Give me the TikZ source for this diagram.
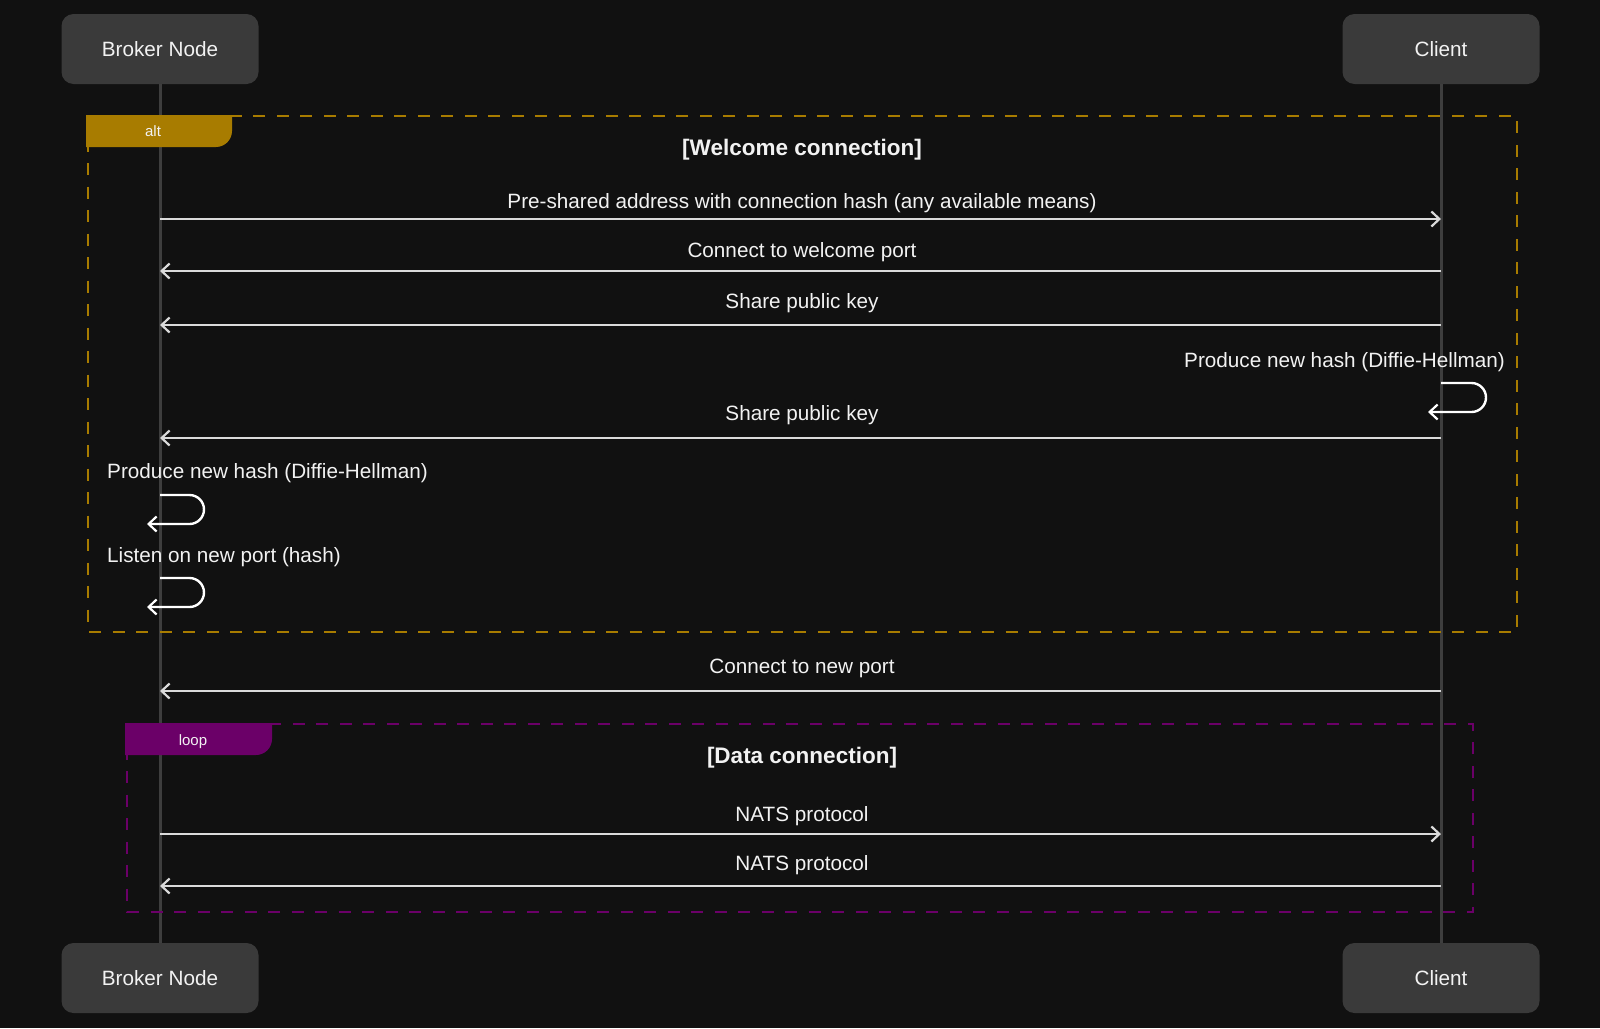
\documentclass[tikz,border=0pt]{standalone}
\usepackage{fontspec}
\setmainfont{Liberation Sans}
\usetikzlibrary{arrows.meta}
\definecolor{bg}{HTML}{111111}
\definecolor{actorfill}{HTML}{3A3A3A}
\definecolor{lifec}{HTML}{3E3E3E}
\definecolor{msgc}{HTML}{DADADA}
\definecolor{txtc}{HTML}{F2F2F2}
\definecolor{altc}{HTML}{A87C00}
\definecolor{loopc}{HTML}{6B0068}
\tikzset{
  actor/.style={fill=actorfill, rounded corners=12pt, minimum width=197pt, minimum height=70pt, inner sep=0pt, text=txtc, font=\fontsize{20.7}{24}\selectfont},
  lifeline/.style={draw=lifec, line width=3pt},
  msg/.style={draw=msgc, line width=2.4pt, -{Straight Barb[length=8pt,width=15pt,line width=2.2pt]}},
  selfmsg/.style={draw=white, line width=2.4pt, -{Straight Barb[length=8pt,width=15pt,line width=2.2pt]}},
  msgtext/.style={text=txtc, inner sep=0pt, font=\fontsize{20.7}{24}\selectfont},
  frametitle/.style={text=txtc, inner sep=0pt, font=\fontsize{22.5}{26}\selectfont\bfseries},
  tabtext/.style={text=txtc, inner sep=0pt, font=\fontsize{15}{18}\selectfont},
  altframe/.style={draw=altc, line width=2.6pt, dash pattern=on 12pt off 11.5pt},
  loopframe/.style={draw=loopc, line width=2.6pt, dash pattern=on 12pt off 11.5pt},
}
\begin{document}
\begin{tikzpicture}[x=1pt,y=-1pt]
\fill[bg] (0,0) rectangle (1600,1028);
\useasboundingbox (0,0) rectangle (1600,1028);

% actors
\node[actor] (bt) at (160,49) {Broker Node};
\node[actor] (ct) at (1441,49) {Client};
\node[actor] (bb) at (160,978) {Broker Node};
\node[actor] (cb) at (1441,978) {Client};

% lifelines
\draw[lifeline] (bt.south) -- (bb.north);
\draw[lifeline] (ct.south) -- (cb.north);

% alt frame
\draw[altframe] (88,116) rectangle (1517,632);
\fill[altc] (86,115) -- (232,115) -- (232,131) .. controls (232,139.8) and (224.8,147) .. (216,147) -- (86,147) -- cycle;
\node[tabtext, anchor=base] (altlab) at (153,136) {alt};
\node[frametitle, anchor=base] (alttitle) at (802,155) {[Welcome connection]};

% loop frame
\draw[loopframe] (127,724) rectangle (1473,912);
\fill[loopc] (125,723) -- (272,723) -- (272,739) .. controls (272,747.8) and (264.8,755) .. (256,755) -- (125,755) -- cycle;
\node[tabtext, anchor=base] (looplab) at (193,745) {loop};
\node[frametitle, anchor=base] (looptitle) at (802,763) {[Data connection]};

% lifeline coordinates
\foreach \n/\y in {1/219, 2/271, 3/325, 4/438, 5/691, 6/834, 7/886} {
  \coordinate (b\n) at (160,\y);
  \coordinate (c\n) at (1441,\y);
}

% messages
\draw[msg] (b1) -- (c1);
\node[msgtext, anchor=base] (m1) at (802,208) {Pre-shared address with connection hash (any available means)};
\draw[msg] (c2) -- (b2);
\node[msgtext, anchor=base] (m2) at (802,257) {Connect to welcome port};
\draw[msg] (c3) -- (b3);
\node[msgtext, anchor=base] (m3) at (802,308) {Share public key};

% client self message
\coordinate (cs1) at (1441,383);
\coordinate (cs2) at (1428,412);
\node[msgtext, anchor=base east] (m4) at (1505,367) {Produce new hash (Diffie-Hellman)};
\draw[selfmsg] (cs1) -- (1471.5,383) .. controls (1479.5,383) and (1486,389.5) .. (1486,397.5) .. controls (1486,405.5) and (1479.5,412) .. (1471.5,412) -- (cs2);

\draw[msg] (c4) -- (b4);
\node[msgtext, anchor=base] (m5) at (802,420) {Share public key};

% broker self messages
\node[msgtext, anchor=base west] (m6) at (107,478) {Produce new hash (Diffie-Hellman)};
\coordinate (bs1) at (160,495);
\coordinate (bs2) at (147,524);
\draw[selfmsg] (bs1) -- (189.5,495) .. controls (197.5,495) and (204,501.5) .. (204,509.5) .. controls (204,517.5) and (197.5,524) .. (189.5,524) -- (bs2);

\node[msgtext, anchor=base west] (m7) at (107,562) {Listen on new port (hash)};
\coordinate (bs3) at (160,578);
\coordinate (bs4) at (147,607);
\draw[selfmsg] (bs3) -- (189.5,578) .. controls (197.5,578) and (204,584.5) .. (204,592.5) .. controls (204,600.5) and (197.5,607) .. (189.5,607) -- (bs4);

\draw[msg] (c5) -- (b5);
\node[msgtext, anchor=base] (m8) at (802,673) {Connect to new port};

\draw[msg] (b6) -- (c6);
\node[msgtext, anchor=base] (m9) at (802,821) {NATS protocol};
\draw[msg] (c7) -- (b7);
\node[msgtext, anchor=base] (m10) at (802,870) {NATS protocol};
\end{tikzpicture}
\end{document}
